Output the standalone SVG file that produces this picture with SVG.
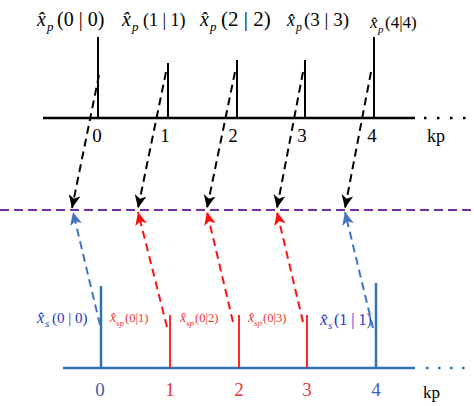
<svg xmlns="http://www.w3.org/2000/svg" width="474" height="406" viewBox="0 0 474 406" font-family="'Liberation Serif', 'DejaVu Serif', serif">
<style>
text{font-family:'Liberation Serif','DejaVu Serif',serif;}
.it{font-style:italic;}
.red{fill:#EE3535;}
.blu{fill:#2436C8;}
.tick{font-size:19px;text-anchor:middle;}
.ax{stroke:#000;stroke-width:2.5;fill:none;}
.stem{stroke:#000;stroke-width:2;}
.bax{stroke:#2E74B5;stroke-width:2.5;fill:none;}
.bstem{stroke:#2E74B5;stroke-width:2.5;}
.rstem{stroke:#FF1010;stroke-width:1.8;}
.dk{stroke:#000;stroke-width:2;stroke-dasharray:8 5;fill:none;}
.dr{stroke:#FF1010;stroke-width:2;stroke-dasharray:8 5;fill:none;}
.db{stroke:#4472C4;stroke-width:2;stroke-dasharray:8 5;fill:none;}
</style>
<defs>
<marker id="mk" markerUnits="userSpaceOnUse" markerWidth="13" markerHeight="12" refX="13" refY="6" orient="auto"><path d="M0,0 L13,6 L0,12 L3.5,6 z" fill="#000"/></marker>
<marker id="mr" markerUnits="userSpaceOnUse" markerWidth="13" markerHeight="12" refX="13" refY="6" orient="auto"><path d="M0,0 L13,6 L0,12 L3.5,6 z" fill="#FF1010"/></marker>
<marker id="mb" markerUnits="userSpaceOnUse" markerWidth="13" markerHeight="12" refX="13" refY="6" orient="auto"><path d="M0,0 L13,6 L0,12 L3.5,6 z" fill="#4472C4"/></marker>
</defs>
<rect width="474" height="406" fill="#fff"/>

<!-- top axis -->
<g id="top-axis">
<line class="ax" x1="43" y1="118" x2="415" y2="118"/>
<line x1="424" y1="118" x2="466" y2="118" stroke="#000" stroke-width="2.5" stroke-dasharray="2.5 10.5"/>
<text class="tick" x="97" y="142">0</text>
<text class="tick" x="165" y="142">1</text>
<text class="tick" x="233" y="142">2</text>
<text class="tick" x="302" y="142">3</text>
<text class="tick" x="372" y="142">4</text>
<text x="427" y="142" font-size="18">kp</text>
</g>

<g id="top-stem-0"><line class="stem" x1="98" y1="37" x2="98" y2="118"/>
<text font-size="20"><tspan class="it" x="37" y="26">x̂</tspan><tspan class="it" x="47" y="31" font-size="13">p</tspan><tspan x="57" y="26">(0 | 0)</tspan></text></g>
<g id="top-stem-1"><line class="stem" x1="168" y1="63" x2="168" y2="118"/>
<text font-size="20"><tspan class="it" x="122" y="26">x̂</tspan><tspan class="it" x="132" y="31" font-size="13">p</tspan><tspan x="143" y="26" font-size="18">(1 | 1)</tspan></text></g>
<g id="top-stem-2"><line class="stem" x1="237" y1="60" x2="237" y2="118"/>
<text font-size="20"><tspan class="it" x="200" y="26">x̂</tspan><tspan class="it" x="210" y="31" font-size="13">p</tspan><tspan x="221" y="26" font-size="21">(2 | 2)</tspan></text></g>
<g id="top-stem-3"><line class="stem" x1="305" y1="60" x2="305" y2="118"/>
<text font-size="18"><tspan class="it" x="287" y="26">x̂</tspan><tspan class="it" x="296" y="31" font-size="12">p</tspan><tspan x="304" y="26" font-size="19">(3 | 3)</tspan></text></g>
<g id="top-stem-4"><line class="stem" x1="374" y1="37" x2="374" y2="118" stroke-width="3"/>
<text font-size="17"><tspan class="it" x="370" y="28">x̂</tspan><tspan class="it" x="378" y="33" font-size="11">p</tspan><tspan x="385" y="28">(4|4)</tspan></text></g>

<!-- middle reference line -->
<g id="mid-line"><line x1="0" y1="210" x2="474" y2="210" stroke="#7030A0" stroke-width="2" stroke-dasharray="9 5"/></g>

<!-- bottom axis -->
<g id="bottom-axis">
<line class="bax" x1="63" y1="368" x2="415" y2="368"/>
<line x1="426" y1="368" x2="466" y2="368" stroke="#2E74B5" stroke-width="2.5" stroke-dasharray="2.5 9.5"/>
<text class="tick" x="100" y="396" fill="#4060B8">0</text>
<text class="tick red" x="170" y="396">1</text>
<text class="tick red" x="239" y="396">2</text>
<text class="tick red" x="307" y="396">3</text>
<text class="tick" x="376" y="396" fill="#4060B8">4</text>
<text x="423" y="398" font-size="17">kp</text>
</g>

<g id="bottom-stem-0"><line class="bstem" x1="101" y1="286" x2="101" y2="368"/>
<text class="blu" font-size="16"><tspan class="it" x="37" y="323">x̂</tspan><tspan class="it" x="45" y="327" font-size="11">s</tspan><tspan x="52" y="323" font-size="15">(0 | 0)</tspan></text></g>
<g id="bottom-stem-1"><line class="rstem" x1="170" y1="315" x2="170" y2="368"/>
<text class="red" font-size="14"><tspan class="it" x="110" y="322">x̂</tspan><tspan class="it" x="116" y="326" font-size="9">sp</tspan><tspan x="125" y="322" font-size="12.5">(0|1)</tspan></text></g>
<g id="bottom-stem-2"><line class="rstem" x1="239" y1="315" x2="239" y2="368"/>
<text class="red" font-size="14"><tspan class="it" x="180" y="322">x̂</tspan><tspan class="it" x="186" y="326" font-size="9">sp</tspan><tspan x="195" y="322" font-size="12.5">(0|2)</tspan></text></g>
<g id="bottom-stem-3"><line class="rstem" x1="307" y1="315" x2="307" y2="368"/>
<text class="red" font-size="14"><tspan class="it" x="248" y="322">x̂</tspan><tspan class="it" x="254" y="326" font-size="9">sp</tspan><tspan x="263" y="322" font-size="12.5">(0|3)</tspan></text></g>
<g id="bottom-stem-4"><line class="bstem" x1="376" y1="283" x2="376" y2="368" stroke-width="3"/>
<text class="blu" font-size="17"><tspan class="it" x="320" y="325">x̂</tspan><tspan class="it" x="328" y="329" font-size="11">s</tspan><tspan x="334" y="325" font-size="16">(1 | 1)</tspan></text></g>

<!-- connectors -->
<g id="connectors">
<line class="dk" x1="99" y1="75" x2="72" y2="208" marker-end="url(#mk)"/>
<line class="dk" x1="166" y1="72" x2="138" y2="208" marker-end="url(#mk)"/>
<line class="dk" x1="235" y1="72" x2="207" y2="208" marker-end="url(#mk)"/>
<line class="dk" x1="303" y1="72" x2="277" y2="208" marker-end="url(#mk)"/>
<line class="dk" x1="371" y1="72" x2="345" y2="208" marker-end="url(#mk)"/>
<line class="db" x1="100" y1="325" x2="73" y2="212" marker-end="url(#mb)"/>
<line class="dr" x1="167" y1="327" x2="138" y2="212" marker-end="url(#mr)"/>
<line class="dr" x1="233" y1="322" x2="207" y2="212" marker-end="url(#mr)"/>
<line class="dr" x1="303" y1="322" x2="277" y2="212" marker-end="url(#mr)"/>
<line class="db" x1="373" y1="328" x2="345" y2="212" marker-end="url(#mb)"/>
</g>
</svg>
